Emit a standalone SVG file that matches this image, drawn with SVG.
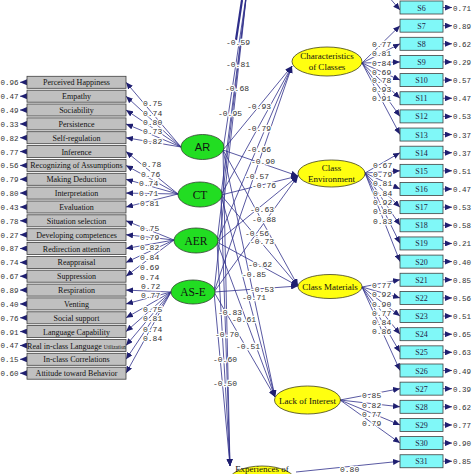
<svg xmlns="http://www.w3.org/2000/svg" width="474" height="474" viewBox="0 0 474 474">
<defs>
<marker id="ah" markerUnits="userSpaceOnUse" markerWidth="7" markerHeight="6" refX="7" refY="3" orient="auto"><path d="M0,0 L7,3 L0,6 z" fill="#1f1f70"/></marker>
<style>
.ln{stroke:#2e2e8a;stroke-width:0.8;fill:none}
.la{stroke:#2e2e8a;stroke-width:0.8;fill:none;marker-end:url(#ah)}
.num{font-family:"Liberation Mono",monospace;font-size:7.5px;fill:#333}
.pl{font-family:"Liberation Mono",monospace;font-size:8px;fill:#333;stroke:#fff;stroke-width:2.5;paint-order:stroke}
.gb{fill:#c0c0c0;stroke:#404040;stroke-width:0.8}
.gt{font-family:"Liberation Serif",serif;font-size:8px;fill:#111;text-anchor:middle}
.sb{fill:#80f8f8;stroke:#404040;stroke-width:0.8}
.st{font-family:"Liberation Serif",serif;font-size:8px;fill:#224;text-anchor:middle}
.gr{fill:#22dd22;stroke:#304030;stroke-width:0.8}
.ye{fill:#ffff10;stroke:#404020;stroke-width:0.8}
.et{font-family:"Liberation Serif",serif;font-size:9px;fill:#111;text-anchor:middle}
.ft{font-family:"Liberation Serif",serif;font-size:11.5px;fill:#111;text-anchor:middle}
</style>
</defs>
<rect width="474" height="474" fill="#fff"/>

<g id="connectors">
<g class="la">
<path d="M27,82.3H20"/><path d="M27,96.2H20"/><path d="M27,110H20"/><path d="M27,123.9H20"/><path d="M27,137.7H20"/><path d="M27,151.6H20"/><path d="M27,165.4H20"/><path d="M27,179.3H20"/><path d="M27,193.1H20"/><path d="M27,207H20"/><path d="M27,220.8H20"/><path d="M27,234.7H20"/><path d="M27,248.5H20"/><path d="M27,262.4H20"/><path d="M27,276.2H20"/><path d="M27,290.1H20"/><path d="M27,303.9H20"/><path d="M27,317.8H20"/><path d="M27,331.6H20"/><path d="M27,345.5H20"/><path d="M27,359.3H20"/><path d="M27,373.2H20"/>
</g>
<g class="la">
<path d="M181,147L126,82.3"/><path d="M181,147L126,96.2"/><path d="M181,147L126,110"/><path d="M181,147L126,123.9"/><path d="M181,147L126,137.7"/>
<path d="M178,194L126,151.6"/><path d="M178,194L126,165.4"/><path d="M178,194L126,179.3"/><path d="M178,194L126,193.1"/><path d="M178,194L126,207"/>
<path d="M174,240L126,220.8"/><path d="M174,240L126,234.7"/><path d="M174,240L126,248.5"/><path d="M174,240L126,262.4"/><path d="M174,240L126,276.2"/>
<path d="M171,292L126,290.1"/><path d="M171,292L126,303.9"/><path d="M171,292L126,317.8"/><path d="M171,292L126,331.6"/><path d="M171,292L126,345.5"/><path d="M171,292L126,359.3"/><path d="M171,292L126,373.2"/>
</g>
<g class="ln">
<path d="M223,150L247,-10"/><path d="M221,195L247,-10"/><path d="M217,242L247,-10"/><path d="M214,292L247,-10"/>
<path d="M242,0L236,40" stroke-width="2.2"/>
</g>
<g class="la">
<path d="M223,150L292,66"/><path d="M221,195L292,66"/><path d="M217,242L292,66"/><path d="M214,292L292,66"/>
<path d="M223,150L298,176"/><path d="M221,195L298,176"/><path d="M217,242L298,176"/><path d="M214,292L298,176"/>
<path d="M223,150L298,286"/><path d="M221,195L298,286"/><path d="M217,242L298,286"/><path d="M214,292L298,286"/>
<path d="M223,150L275,397"/><path d="M221,195L275,397"/><path d="M217,242L275,397"/><path d="M214,292L275,397"/>
<path d="M223,150L230,466"/><path d="M221,195L230,466"/><path d="M217,242L230,466"/><path d="M214,292L230,466"/>
</g>
<g class="la">
<path d="M388,-4L400,10"/>
<path d="M362,63L400,25.65"/><path d="M362,63L400,43.8"/><path d="M362,63L400,61.95"/><path d="M362,63L400,80.1"/><path d="M362,63L400,98.25"/><path d="M362,63L400,116.4"/><path d="M362,63L400,134.55"/>
<path d="M365,173L400,152.7"/><path d="M365,173L400,170.85"/><path d="M365,173L400,189"/><path d="M365,173L400,207.15"/><path d="M365,173L400,225.3"/><path d="M365,173L400,243.45"/><path d="M365,173L400,261.6"/>
<path d="M362,287L400,279.75"/><path d="M362,287L400,297.9"/><path d="M362,287L400,316.05"/><path d="M362,287L400,334.2"/><path d="M362,287L400,352.35"/><path d="M362,287L400,370.5"/>
<path d="M340,400L400,388.65"/><path d="M340,400L400,406.8"/><path d="M340,400L400,424.95"/><path d="M340,400L400,443.1"/>
<path d="M296,472L400,461.25"/>
</g>
<g class="la">
<path d="M443,7.5H452"/><path d="M443,25.65H452"/><path d="M443,43.8H452"/><path d="M443,61.95H452"/><path d="M443,80.1H452"/><path d="M443,98.25H452"/><path d="M443,116.4H452"/><path d="M443,134.55H452"/><path d="M443,152.7H452"/><path d="M443,170.85H452"/><path d="M443,189H452"/><path d="M443,207.15H452"/><path d="M443,225.3H452"/><path d="M443,243.45H452"/><path d="M443,261.6H452"/><path d="M443,279.75H452"/><path d="M443,297.9H452"/><path d="M443,316.05H452"/><path d="M443,334.2H452"/><path d="M443,352.35H452"/><path d="M443,370.5H452"/><path d="M443,388.65H452"/><path d="M443,406.8H452"/><path d="M443,424.95H452"/><path d="M443,443.1H452"/><path d="M443,461.25H452"/>
</g>
</g>

<g id="indicators">
<g id="n-perceived-happiness"><rect class="gb" x="27" y="76.3" width="99" height="12"/><text class="gt" x="76.5" y="85.3">Perceived Happiness</text></g>
<g id="n-empathy"><rect class="gb" x="27" y="90.2" width="99" height="12"/><text class="gt" x="76.5" y="99.2">Empathy</text></g>
<g id="n-sociability"><rect class="gb" x="27" y="104" width="99" height="12"/><text class="gt" x="76.5" y="113">Sociability</text></g>
<g id="n-persistence"><rect class="gb" x="27" y="117.9" width="99" height="12"/><text class="gt" x="76.5" y="126.9">Persistence</text></g>
<g id="n-self-regulation"><rect class="gb" x="27" y="131.7" width="99" height="12"/><text class="gt" x="76.5" y="140.7">Self-regulation</text></g>
<g id="n-inference"><rect class="gb" x="27" y="145.6" width="99" height="12"/><text class="gt" x="76.5" y="154.6">Inference</text></g>
<g id="n-recognizing"><rect class="gb" x="27" y="159.4" width="99" height="12"/><text class="gt" x="76.5" y="168.4">Recognizing of Assumptions</text></g>
<g id="n-making-deduction"><rect class="gb" x="27" y="173.3" width="99" height="12"/><text class="gt" x="76.5" y="182.3">Making Deduction</text></g>
<g id="n-interpretation"><rect class="gb" x="27" y="187.1" width="99" height="12"/><text class="gt" x="76.5" y="196.1">Interpretation</text></g>
<g id="n-evaluation"><rect class="gb" x="27" y="201" width="99" height="12"/><text class="gt" x="76.5" y="210">Evaluation</text></g>
<g id="n-situation-selection"><rect class="gb" x="27" y="214.8" width="99" height="12"/><text class="gt" x="76.5" y="223.8">Situation selection</text></g>
<g id="n-developing"><rect class="gb" x="27" y="228.7" width="99" height="12"/><text class="gt" x="76.5" y="237.7">Developing competences</text></g>
<g id="n-redirection"><rect class="gb" x="27" y="242.5" width="99" height="12"/><text class="gt" x="76.5" y="251.5">Redirection attention</text></g>
<g id="n-reappraisal"><rect class="gb" x="27" y="256.4" width="99" height="12"/><text class="gt" x="76.5" y="265.4">Reappraisal</text></g>
<g id="n-suppression"><rect class="gb" x="27" y="270.2" width="99" height="12"/><text class="gt" x="76.5" y="279.2">Suppression</text></g>
<g id="n-respiration"><rect class="gb" x="27" y="284.1" width="99" height="12"/><text class="gt" x="76.5" y="293.1">Respiration</text></g>
<g id="n-venting"><rect class="gb" x="27" y="297.9" width="99" height="12"/><text class="gt" x="76.5" y="306.9">Venting</text></g>
<g id="n-social-support"><rect class="gb" x="27" y="311.8" width="99" height="12"/><text class="gt" x="76.5" y="320.8">Social support</text></g>
<g id="n-language-capability"><rect class="gb" x="27" y="325.6" width="99" height="12"/><text class="gt" x="76.5" y="334.6">Language Capability</text></g>
<g id="n-real-in-class"><rect class="gb" x="27" y="339.5" width="99" height="12"/><text class="gt" x="76.5" y="348.5" font-size="7.3">Real in-class Language <tspan font-size="5.2">Utilization</tspan></text></g>
<g id="n-in-class-correlations"><rect class="gb" x="27" y="353.3" width="99" height="12"/><text class="gt" x="76.5" y="362.3">In-class Correlations</text></g>
<g id="n-attitude"><rect class="gb" x="27" y="367.2" width="99" height="12"/><text class="gt" x="76.5" y="376.2">Attitude toward Behavior</text></g>
</g>

<g id="left-errors" class="num">
<text x="0.5" y="85">0.96</text><text x="0.5" y="99">0.47</text><text x="0.5" y="113">0.49</text><text x="0.5" y="127">0.33</text><text x="0.5" y="140.5">0.82</text><text x="0.5" y="154.5">0.77</text><text x="0.5" y="168">0.56</text><text x="0.5" y="182">0.79</text><text x="0.5" y="196">0.80</text><text x="0.5" y="210">0.43</text><text x="0.5" y="223.5">0.78</text><text x="0.5" y="237.5">0.27</text><text x="0.5" y="251">0.87</text><text x="0.5" y="265">0.74</text><text x="0.5" y="279">0.67</text><text x="0.5" y="293">0.89</text><text x="0.5" y="306.5">0.40</text><text x="0.5" y="320.5">0.76</text><text x="0.5" y="334.5">0.91</text><text x="0.5" y="348">0.47</text><text x="0.5" y="362">0.15</text><text x="0.5" y="376">0.60</text>
</g>

<g id="left-loadings">
<text class="pl" x="143" y="106">0.75</text><text class="pl" x="143" y="116">0.74</text><text class="pl" x="143" y="125">0.80</text><text class="pl" x="143" y="134">0.73</text><text class="pl" x="143" y="144">0.82</text>
<text class="pl" x="142" y="167">0.78</text><text class="pl" x="141" y="177">0.76</text><text class="pl" x="139" y="186">0.74</text><text class="pl" x="139" y="196">0.71</text><text class="pl" x="140" y="206">0.81</text>
<text class="pl" x="140" y="231">0.75</text><text class="pl" x="140" y="240">0.79</text><text class="pl" x="140" y="250">0.82</text><text class="pl" x="140" y="260">0.84</text><text class="pl" x="140" y="270">0.69</text>
<text class="pl" x="140" y="280">0.74</text><text class="pl" x="141" y="289">0.72</text><text class="pl" x="141" y="298">0.77</text><text class="pl" x="143" y="312">0.75</text><text class="pl" x="143" y="321">0.81</text><text class="pl" x="143" y="332">0.74</text><text class="pl" x="143" y="341">0.84</text>
</g>

<g id="path-labels">
<text class="pl" x="226" y="45">-0.59</text><text class="pl" x="226" y="67">-0.81</text><text class="pl" x="225" y="91">-0.68</text><text class="pl" x="218" y="116">-0.95</text>
<text class="pl" x="247" y="109">-0.93</text><text class="pl" x="247" y="131">-0.79</text><text class="pl" x="247" y="152">-0.66</text>
<text class="pl" x="251" y="164">-0.90</text><text class="pl" x="245" y="179">-0.57</text><text class="pl" x="252" y="188">-0.76</text><text class="pl" x="250" y="212">-0.63</text><text class="pl" x="252" y="222">-0.88</text><text class="pl" x="245" y="236">-0.56</text><text class="pl" x="250" y="244">-0.73</text><text class="pl" x="248" y="267">-0.62</text><text class="pl" x="242" y="277">-0.85</text><text class="pl" x="250" y="292">-0.53</text><text class="pl" x="242" y="300">-0.71</text>
<text class="pl" x="218" y="315">-0.83</text><text class="pl" x="232" y="322">-0.61</text><text class="pl" x="215" y="337">-0.70</text><text class="pl" x="236" y="349">-0.51</text><text class="pl" x="213" y="362">-0.60</text><text class="pl" x="213" y="386">-0.50</text>
</g>

<g id="right-loadings">
<text class="pl" x="372" y="47">0.77</text><text class="pl" x="372" y="56">0.81</text><text class="pl" x="372" y="66">0.84</text><text class="pl" x="372" y="75">0.69</text><text class="pl" x="372" y="83">0.78</text><text class="pl" x="372" y="92">0.93</text><text class="pl" x="372" y="101">0.91</text>
<text class="pl" x="373" y="168">0.67</text><text class="pl" x="373" y="177">0.79</text><text class="pl" x="373" y="186">0.81</text><text class="pl" x="373" y="196">0.84</text><text class="pl" x="373" y="205">0.92</text><text class="pl" x="373" y="214">0.85</text><text class="pl" x="373" y="224">0.83</text>
<text class="pl" x="372" y="288">0.77</text><text class="pl" x="372" y="297">0.92</text><text class="pl" x="372" y="307">0.90</text><text class="pl" x="372" y="316">0.77</text><text class="pl" x="372" y="325">0.84</text><text class="pl" x="372" y="334">0.86</text>
<text class="pl" x="362" y="398">0.85</text><text class="pl" x="362" y="408">0.82</text><text class="pl" x="362" y="417">0.77</text><text class="pl" x="362" y="426">0.79</text>
<text class="pl" x="340" y="472">0.80</text>
</g>

<g id="items">
<g id="n-s6"><rect class="sb" x="400" y="1" width="43" height="13"/><text class="st" x="421.5" y="10.5">S6</text></g>
<g id="n-s7"><rect class="sb" x="400" y="19.15" width="43" height="13"/><text class="st" x="421.5" y="28.65">S7</text></g>
<g id="n-s8"><rect class="sb" x="400" y="37.3" width="43" height="13"/><text class="st" x="421.5" y="46.8">S8</text></g>
<g id="n-s9"><rect class="sb" x="400" y="55.45" width="43" height="13"/><text class="st" x="421.5" y="64.95">S9</text></g>
<g id="n-s10"><rect class="sb" x="400" y="73.6" width="43" height="13"/><text class="st" x="421.5" y="83.1">S10</text></g>
<g id="n-s11"><rect class="sb" x="400" y="91.75" width="43" height="13"/><text class="st" x="421.5" y="101.25">S11</text></g>
<g id="n-s12"><rect class="sb" x="400" y="109.9" width="43" height="13"/><text class="st" x="421.5" y="119.4">S12</text></g>
<g id="n-s13"><rect class="sb" x="400" y="128.05" width="43" height="13"/><text class="st" x="421.5" y="137.55">S13</text></g>
<g id="n-s14"><rect class="sb" x="400" y="146.2" width="43" height="13"/><text class="st" x="421.5" y="155.7">S14</text></g>
<g id="n-s15"><rect class="sb" x="400" y="164.35" width="43" height="13"/><text class="st" x="421.5" y="173.85">S15</text></g>
<g id="n-s16"><rect class="sb" x="400" y="182.5" width="43" height="13"/><text class="st" x="421.5" y="192">S16</text></g>
<g id="n-s17"><rect class="sb" x="400" y="200.65" width="43" height="13"/><text class="st" x="421.5" y="210.15">S17</text></g>
<g id="n-s18"><rect class="sb" x="400" y="218.8" width="43" height="13"/><text class="st" x="421.5" y="228.3">S18</text></g>
<g id="n-s19"><rect class="sb" x="400" y="236.95" width="43" height="13"/><text class="st" x="421.5" y="246.45">S19</text></g>
<g id="n-s20"><rect class="sb" x="400" y="255.1" width="43" height="13"/><text class="st" x="421.5" y="264.6">S20</text></g>
<g id="n-s21"><rect class="sb" x="400" y="273.25" width="43" height="13"/><text class="st" x="421.5" y="282.75">S21</text></g>
<g id="n-s22"><rect class="sb" x="400" y="291.4" width="43" height="13"/><text class="st" x="421.5" y="300.9">S22</text></g>
<g id="n-s23"><rect class="sb" x="400" y="309.55" width="43" height="13"/><text class="st" x="421.5" y="319.05">S23</text></g>
<g id="n-s24"><rect class="sb" x="400" y="327.7" width="43" height="13"/><text class="st" x="421.5" y="337.2">S24</text></g>
<g id="n-s25"><rect class="sb" x="400" y="345.85" width="43" height="13"/><text class="st" x="421.5" y="355.35">S25</text></g>
<g id="n-s26"><rect class="sb" x="400" y="364" width="43" height="13"/><text class="st" x="421.5" y="373.5">S26</text></g>
<g id="n-s27"><rect class="sb" x="400" y="382.15" width="43" height="13"/><text class="st" x="421.5" y="391.65">S27</text></g>
<g id="n-s28"><rect class="sb" x="400" y="400.3" width="43" height="13"/><text class="st" x="421.5" y="409.8">S28</text></g>
<g id="n-s29"><rect class="sb" x="400" y="418.45" width="43" height="13"/><text class="st" x="421.5" y="427.95">S29</text></g>
<g id="n-s30"><rect class="sb" x="400" y="436.6" width="43" height="13"/><text class="st" x="421.5" y="446.1">S30</text></g>
<g id="n-s31"><rect class="sb" x="400" y="454.75" width="43" height="13"/><text class="st" x="421.5" y="464.25">S31</text></g>
</g>

<g id="right-errors" class="num">
<text x="453" y="10.5">0.71</text><text x="453" y="28.6">0.89</text><text x="453" y="46.8">0.62</text><text x="453" y="65">0.29</text><text x="453" y="83.1">0.57</text><text x="453" y="101.2">0.47</text><text x="453" y="119.4">0.53</text><text x="453" y="137.5">0.37</text><text x="453" y="155.7">0.37</text><text x="453" y="173.8">0.51</text><text x="453" y="192">0.47</text><text x="453" y="210.1">0.53</text><text x="453" y="228.3">0.58</text><text x="453" y="246.4">0.21</text><text x="453" y="264.6">0.40</text><text x="453" y="282.7">0.85</text><text x="453" y="300.9">0.56</text><text x="453" y="319">0.51</text><text x="453" y="337.2">0.65</text><text x="453" y="355.3">0.63</text><text x="453" y="373.5">0.49</text><text x="453" y="391.6">0.39</text><text x="453" y="409.8">0.62</text><text x="453" y="427.9">0.77</text><text x="453" y="446.1">0.90</text><text x="453" y="464.2">0.85</text>
</g>

<g id="n-ar"><ellipse class="gr" cx="202.5" cy="147" rx="21.5" ry="12.5"/><text x="202.5" y="151" text-anchor="middle" font-family="Liberation Sans,sans-serif" font-size="11" fill="#111">AR</text></g>
<g id="n-ct"><ellipse class="gr" cx="200" cy="194.5" rx="22" ry="12.5"/><text class="ft" x="200" y="198.5">CT</text></g>
<g id="n-aer"><ellipse class="gr" cx="196" cy="240.5" rx="22" ry="12.5"/><text class="ft" x="196" y="244.5">AER</text></g>
<g id="n-ase"><ellipse class="gr" cx="193" cy="292" rx="22" ry="12"/><text class="ft" x="193" y="296">AS-E</text></g>

<g id="n-characteristics"><ellipse class="ye" cx="327" cy="61.5" rx="35" ry="14.5"/><text class="et" x="327" y="59">Characteristics</text><text class="et" x="327" y="70">of Classes</text></g>
<g id="n-class-environment"><ellipse class="ye" cx="331.5" cy="173.5" rx="33.5" ry="13.5"/><text class="et" x="331.5" y="171">Class</text><text class="et" x="331.5" y="182">Environment</text></g>
<g id="n-class-materials"><ellipse class="ye" cx="330" cy="286.5" rx="32" ry="12"/><text class="et" x="330" y="290">Class Materials</text></g>
<g id="n-lack-of-interest"><ellipse class="ye" cx="307.5" cy="400" rx="33" ry="14"/><text class="et" x="307.5" y="403.5">Lack of Interest</text></g>
<g id="n-experiences"><ellipse class="ye" cx="262" cy="482" rx="34" ry="16"/><text class="et" x="262" y="471.5" font-size="8.5">Experiences of</text></g>
</svg>
